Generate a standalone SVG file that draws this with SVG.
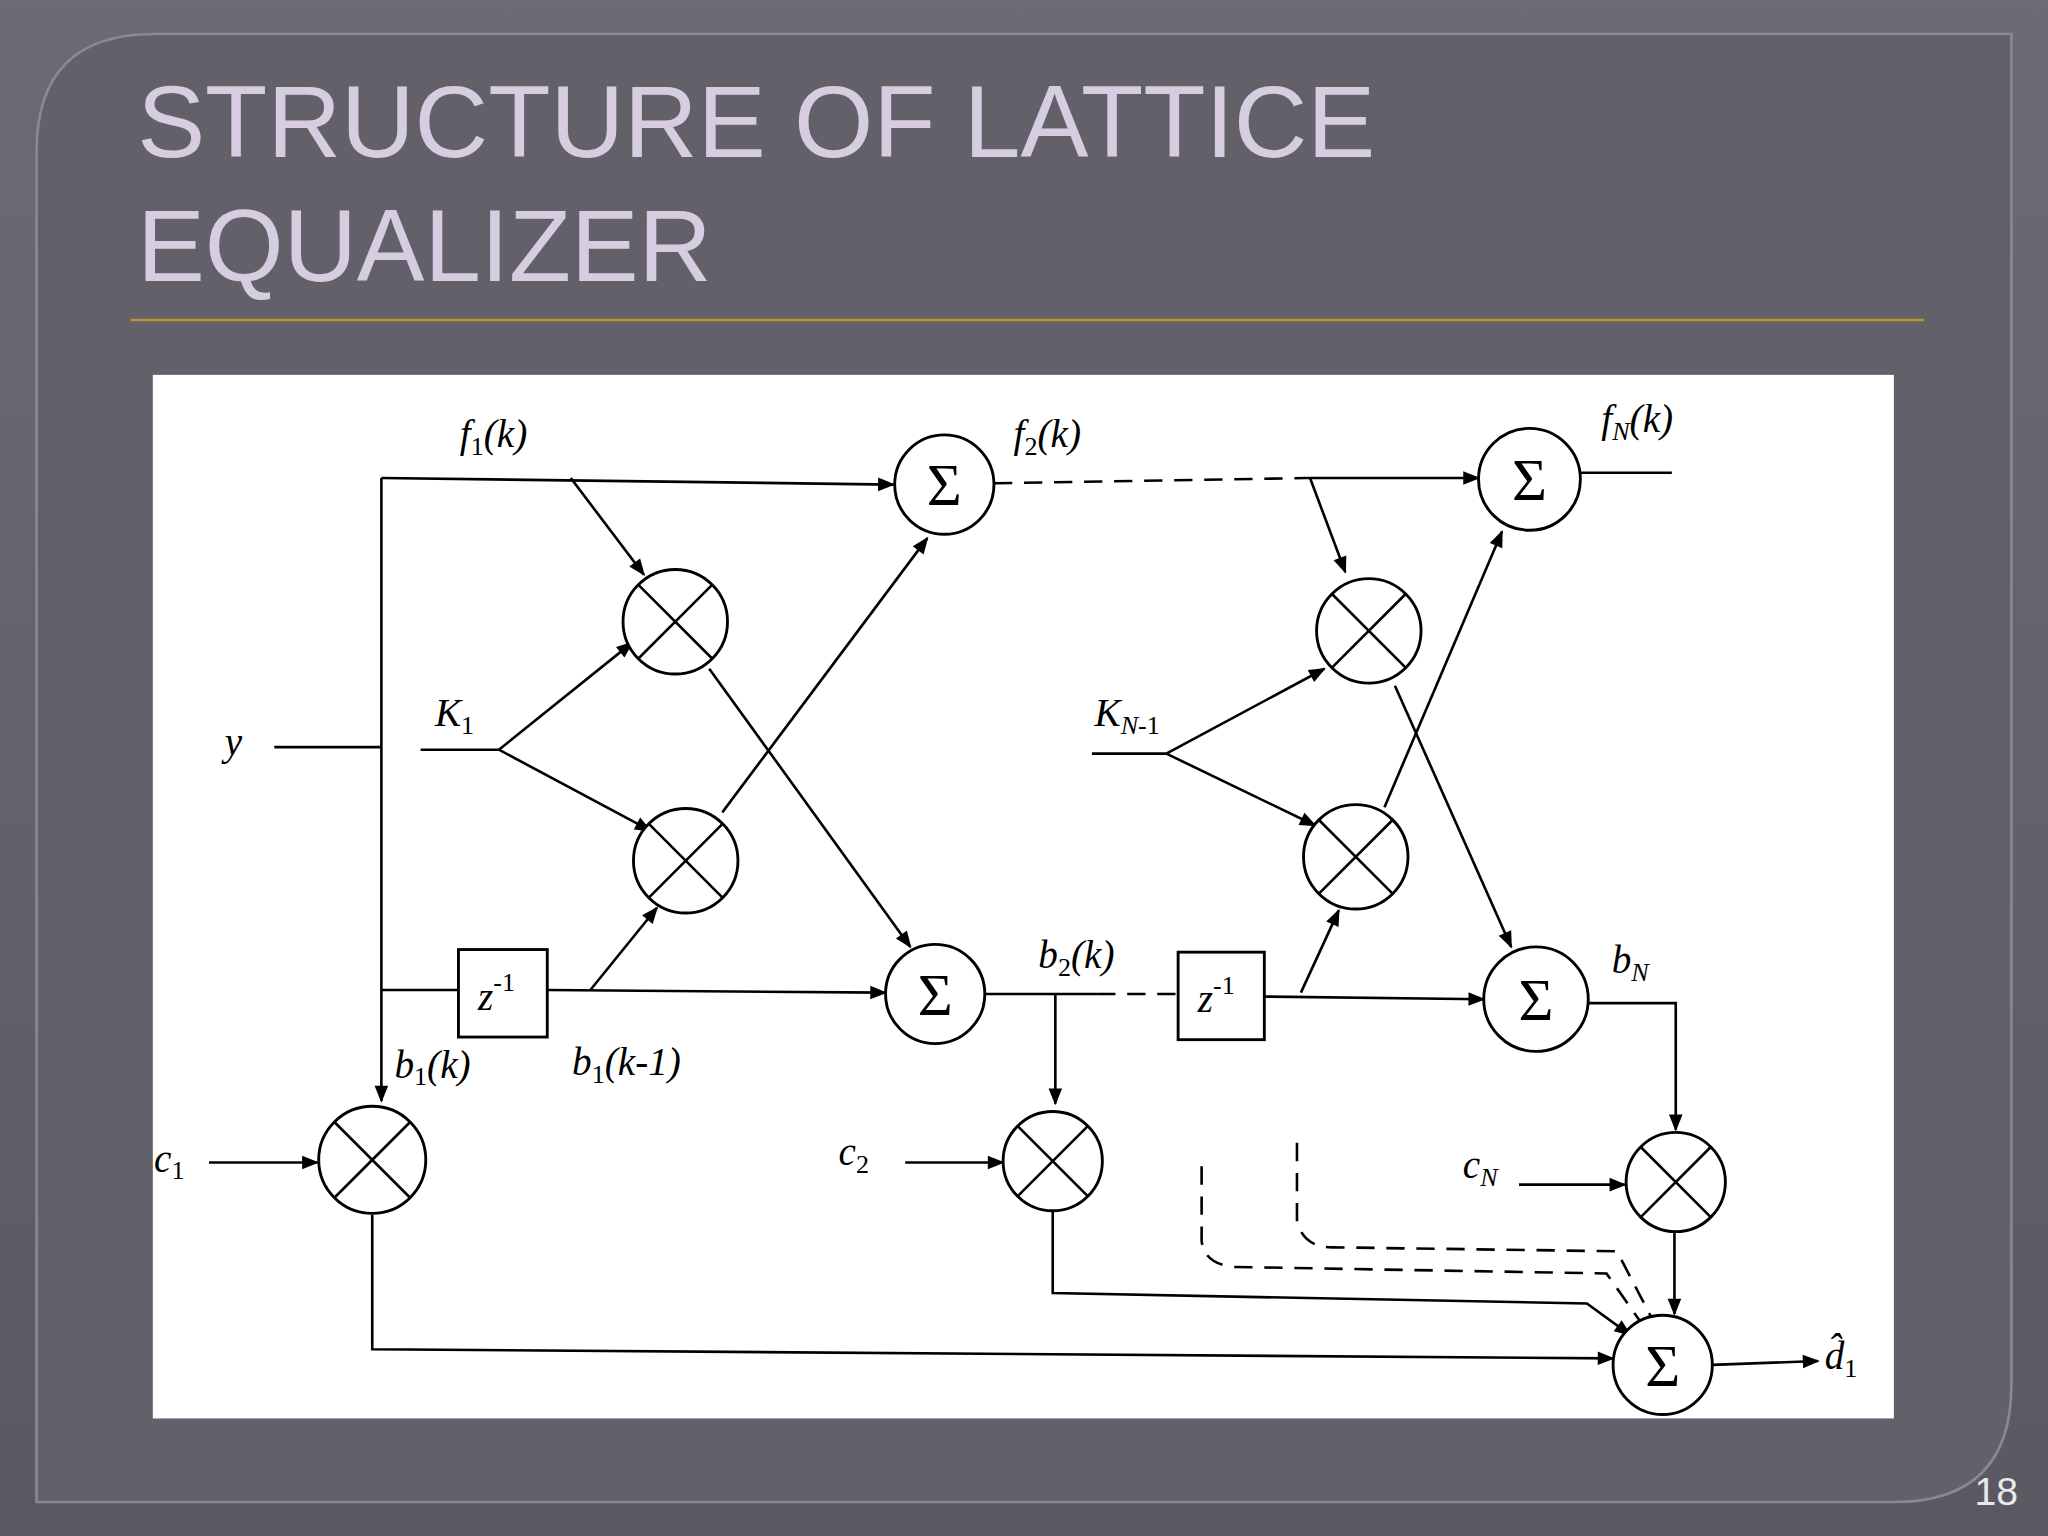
<svg xmlns="http://www.w3.org/2000/svg" width="2048" height="1536" viewBox="0 0 2048 1536">
<defs>
<marker id="ah" viewBox="0 0 10 10" refX="9" refY="5" markerWidth="15" markerHeight="13" markerUnits="userSpaceOnUse" orient="auto"><path d="M0,1 L10,5 L0,9 z" fill="#000"/></marker>
<linearGradient id="bg" x1="0" y1="0" x2="0" y2="1"><stop offset="0" stop-color="#6c6b75"/><stop offset="1" stop-color="#5a5962"/></linearGradient>
</defs>
<style>
.c{fill:#fff;stroke:#000;stroke-width:2.2}
.l{fill:none;stroke:#000;stroke-width:2}
.a{fill:none;stroke:#000;stroke-width:2;marker-end:url(#ah)}
.d{fill:none;stroke:#000;stroke-width:2;stroke-dasharray:14 9}
.t{font-family:"Liberation Serif",serif;font-style:italic;font-size:30px;fill:#000}
.s{font-family:"Liberation Serif",serif;font-size:46px;fill:#000;text-anchor:middle}
.ti{font-family:"Liberation Sans",Arial,sans-serif;font-size:78px;fill:#d6cde0}
</style>
<rect width="2048" height="1536" fill="url(#bg)"/>
<g transform="scale(1.30612)">
<path d="M118,26 H1540 V1060 Q1540,1150 1450,1150 H28 V116 Q28,26 118,26 Z" fill="#62616a" stroke="#8a8992" stroke-width="2"/>
<text class="ti" x="105" y="120" textLength="948" lengthAdjust="spacingAndGlyphs">STRUCTURE OF LATTICE</text>
<text class="ti" x="105" y="215" textLength="440" lengthAdjust="spacingAndGlyphs">EQUALIZER</text>
<line x1="100" y1="245" x2="1473" y2="245" stroke="#b8962e" stroke-width="2"/>
<text x="1545" y="1152" font-family="Liberation Sans,sans-serif" font-size="30" fill="#e8e8ee" text-anchor="end">18</text>
<rect x="117" y="287" width="1333" height="799" fill="#fff"/>
<g id="connectors">
<path class="l" d="M210,572 H292"/>
<path class="a" d="M292,366 V843"/>
<path class="a" d="M292,366 L684,371"/>
<path class="l" d="M292,758 H351"/>
<path class="a" d="M437,366 L493,440"/>
<path class="l" d="M322,574 H382"/>
<path class="a" d="M382,574 L484,492"/>
<path class="a" d="M382,574 L498,636"/>
<path class="a" d="M543,512 L697,725"/>
<path class="a" d="M553,622 L710,412"/>
<path class="a" d="M419,758 L678,760"/>
<path class="a" d="M452,758 L503,695"/>
<path class="d" d="M761,370 L1000,366"/>
<path class="a" d="M1000,366 L1132,366"/>
<path class="a" d="M1003,366 L1030,438"/>
<path class="l" d="M1210,362 H1280"/>
<path class="l" d="M754,761 H840"/>
<path class="d" d="M840,761 H902"/>
<path class="a" d="M808,761 V845"/>
<path class="a" d="M968,763 L1136,765"/>
<path class="a" d="M996,760 L1025,697"/>
<path class="l" d="M836,577 H893"/>
<path class="a" d="M893,577 L1014,512"/>
<path class="a" d="M893,577 L1007,632"/>
<path class="a" d="M1068,525 L1157,725"/>
<path class="a" d="M1060,618 L1150,407"/>
<path class="a" d="M1216,768 H1283 V865"/>
<path class="a" d="M160,890 H243"/>
<path class="a" d="M693,890 H768"/>
<path class="a" d="M1163,907 H1244"/>
<path class="a" d="M285,930 V1033 L1235,1040"/>
<path class="a" d="M806,928 V990 L1215,998 L1248,1022"/>
<path class="a" d="M1282,943 V1006"/>
<path class="d" d="M920,893 V950 Q922,968 945,970 L1230,975 L1256,1012"/>
<path class="d" d="M993,875 V935 Q998,955 1020,955 L1238,958 L1264,1008"/>
<path class="a" d="M1311,1045 L1392,1042"/>
</g>
<g id="nodes">
<g id="sum1"><circle class="c" cx="723" cy="371" r="38"/><text class="s" x="723" y="387">Σ</text></g>
<g id="sumN"><circle class="c" cx="1171" cy="367" r="39"/><text class="s" x="1171" y="383">Σ</text></g>
<g id="sumb1"><circle class="c" cx="716" cy="761" r="38"/><text class="s" x="716" y="777">Σ</text></g>
<g id="sumbN"><circle class="c" cx="1176" cy="765" r="40"/><text class="s" x="1176" y="781">Σ</text></g>
<g id="sumout"><circle class="c" cx="1273" cy="1045" r="38"/><text class="s" x="1273" y="1061">Σ</text></g>
<g id="m1"><circle class="c" cx="517" cy="476" r="40"/><path class="l" d="M489,448 L545,504 M545,448 L489,504"/></g>
<g id="m2"><circle class="c" cx="525" cy="659" r="40"/><path class="l" d="M497,631 L553,687 M553,631 L497,687"/></g>
<g id="m3"><circle class="c" cx="1048" cy="483" r="40"/><path class="l" d="M1020,455 L1076,511 M1076,455 L1020,511"/></g>
<g id="m4"><circle class="c" cx="1038" cy="656" r="40"/><path class="l" d="M1010,628 L1066,684 M1066,628 L1010,684"/></g>
<g id="mc1"><circle class="c" cx="285" cy="888" r="41"/><path class="l" d="M256,859 L314,917 M314,859 L256,917"/></g>
<g id="mc2"><circle class="c" cx="806" cy="889" r="38"/><path class="l" d="M779,862 L833,916 M833,862 L779,916"/></g>
<g id="mcN"><circle class="c" cx="1283" cy="905" r="38"/><path class="l" d="M1256,878 L1310,932 M1310,878 L1256,932"/></g>
<g id="z1"><rect class="c" x="351" y="727" width="68" height="67"/><text class="t" x="366" y="773">z<tspan font-size="20" dy="-14" font-style="normal">-1</tspan></text></g>
<g id="z2"><rect class="c" x="902" y="729" width="66" height="67"/><text class="t" x="917" y="775">z<tspan font-size="20" dy="-14" font-style="normal">-1</tspan></text></g>
</g>
<g id="labels">
<text class="t" x="172" y="578">y</text>
<text class="t" x="352" y="342">f<tspan font-size="20" dy="6" font-style="normal">1</tspan><tspan dy="-6">(k)</tspan></text>
<text class="t" x="776" y="342">f<tspan font-size="20" dy="6" font-style="normal">2</tspan><tspan dy="-6">(k)</tspan></text>
<text class="t" x="1226" y="331">f<tspan font-size="20" dy="6">N</tspan><tspan dy="-6">(k)</tspan></text>
<text class="t" x="333" y="556">K<tspan font-size="20" dy="6" font-style="normal">1</tspan></text>
<text class="t" x="838" y="556">K<tspan font-size="20" dy="6">N</tspan><tspan font-size="20" font-style="normal">-1</tspan></text>
<text class="t" x="795" y="741">b<tspan font-size="20" dy="6" font-style="normal">2</tspan><tspan dy="-6">(k)</tspan></text>
<text class="t" x="1234" y="745">b<tspan font-size="20" dy="6">N</tspan></text>
<text class="t" x="302" y="825">b<tspan font-size="20" dy="6" font-style="normal">1</tspan><tspan dy="-6">(k)</tspan></text>
<text class="t" x="438" y="823">b<tspan font-size="20" dy="6" font-style="normal">1</tspan><tspan dy="-6">(k-1)</tspan></text>
<text class="t" x="118" y="897">c<tspan font-size="20" dy="6" font-style="normal">1</tspan></text>
<text class="t" x="642" y="892">c<tspan font-size="20" dy="6" font-style="normal">2</tspan></text>
<text class="t" x="1120" y="902">c<tspan font-size="20" dy="6">N</tspan></text>
<text class="t" x="1397" y="1048">d&#770;<tspan font-size="20" dy="6" font-style="normal">1</tspan></text>
</g>
</g>
</svg>
